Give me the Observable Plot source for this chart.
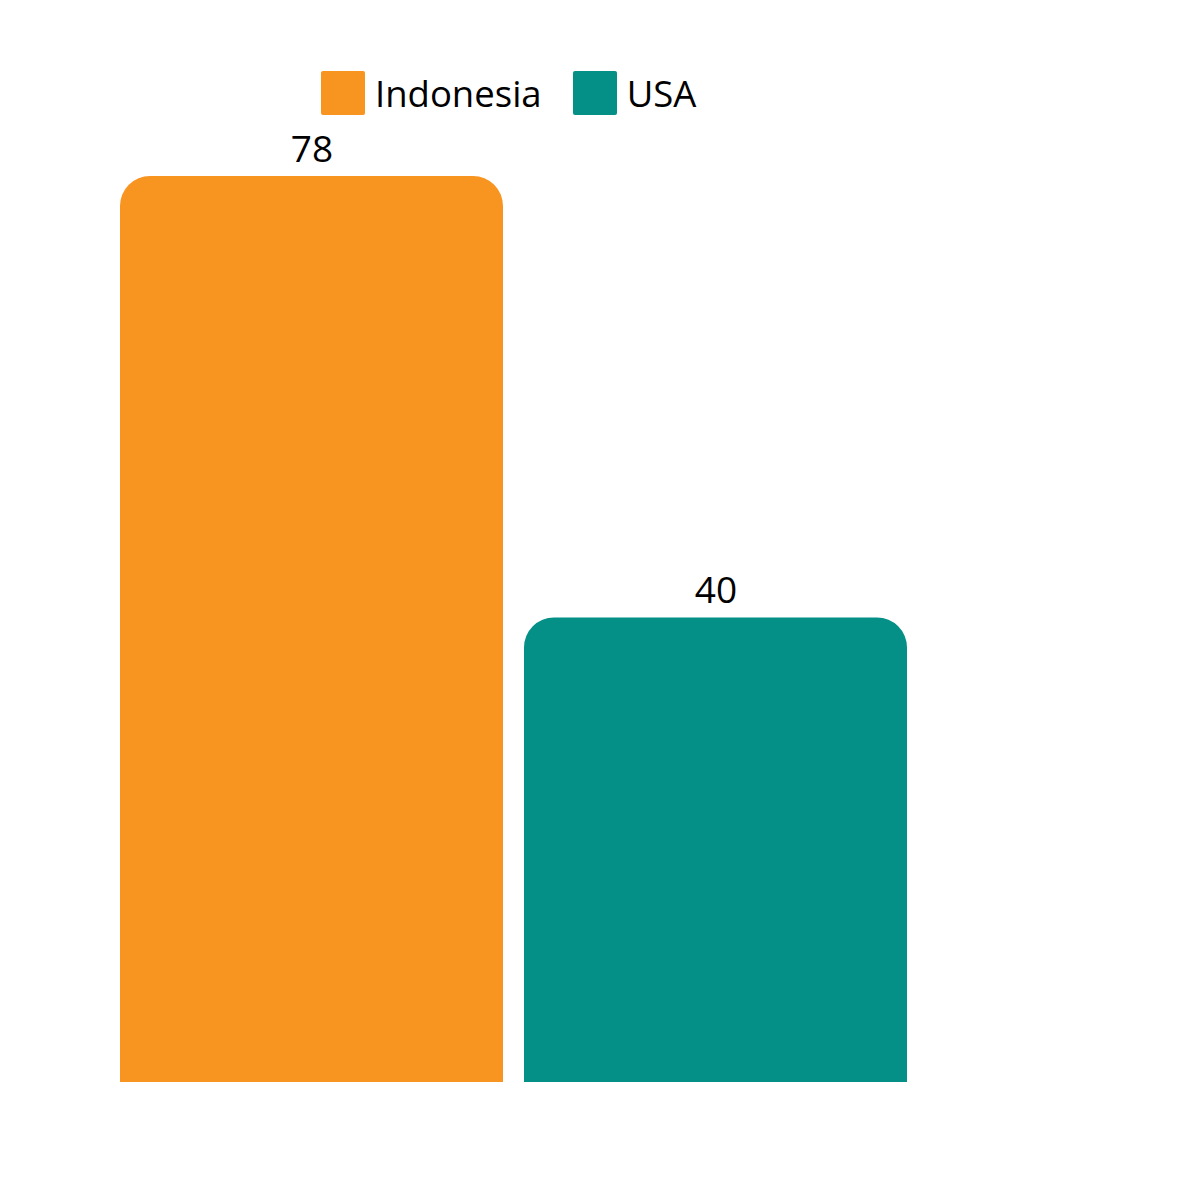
<!DOCTYPE html>
<html>
<head>
<meta charset="utf-8">
<script src="https://cdn.jsdelivr.net/npm/d3@7"></script>
<script src="https://cdn.jsdelivr.net/npm/@observablehq/plot@0.6"></script>
<style>
  html, body { margin: 0; padding: 0; background: #fff; }
  body { width: 1200px; height: 1200px; font-family: "Open Sans", sans-serif; }
  #legend { height: 130px; box-sizing: border-box; padding-top: 71px; padding-left: 321px; display: flex; align-items: flex-start; }
  .item { display: flex; align-items: center; margin-right: 31px; height: 44px; }
  .sw { width: 44px; height: 44px; border-radius: 2px; margin-right: 10px; }
  .lab { font-size: 36.5px; color: #000; line-height: 44px; }
</style>
</head>
<body>
<div id="legend"></div>
<div id="chart"></div>
<script>
const countries = ["Indonesia", "USA"];
const values = [78, 40];
const colors = ["#F89420", "#049086"];

const data = countries.map((c, i) => ({country: c, value: values[i]}));

const legend = document.getElementById("legend");
countries.forEach((c, i) => {
  const item = document.createElement("div");
  item.className = "item";
  const sw = document.createElement("div");
  sw.className = "sw";
  sw.style.background = colors[i];
  const lab = document.createElement("span");
  lab.className = "lab";
  lab.textContent = c;
  item.appendChild(sw);
  item.appendChild(lab);
  legend.appendChild(item);
});

const chart = Plot.plot({
  width: 1200,
  height: 1070,
  marginLeft: 120,
  marginRight: 293,
  marginTop: 46,
  marginBottom: 118,
  style: {fontFamily: "Open Sans", background: "transparent", overflow: "visible"},
  x: {domain: countries, paddingInner: 0.052, paddingOuter: 0, axis: null},
  y: {domain: [0, 78], axis: null},
  color: {domain: countries, range: colors},
  marks: [
    Plot.barY(data, {x: "country", y: "value", fill: "country", ry1: 30}),
    Plot.text(data, {x: "country", y: "value", text: d => String(d.value), lineAnchor: "bottom", dy: -15, fontSize: 37, fill: "#000"})
  ]
});
document.getElementById("chart").appendChild(chart);
</script>
</body>
</html>
